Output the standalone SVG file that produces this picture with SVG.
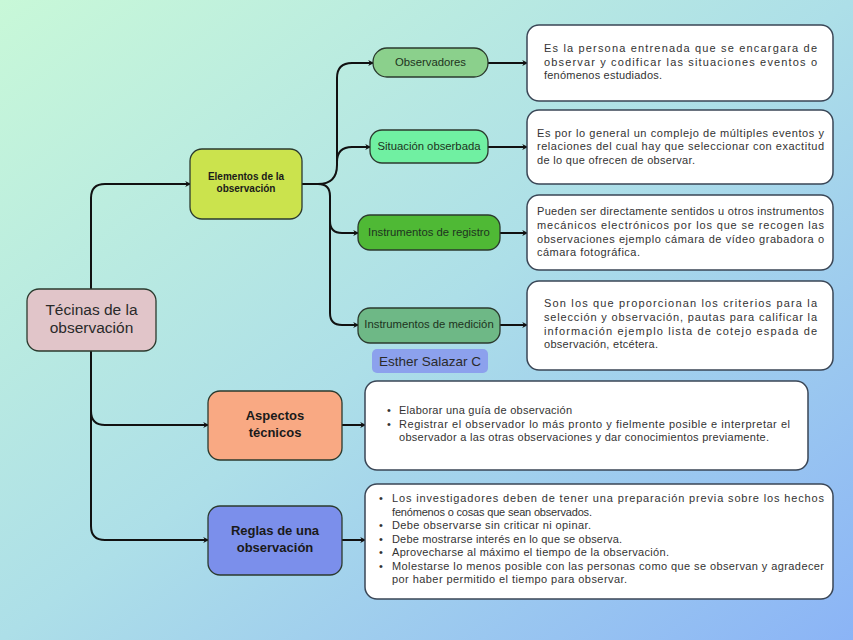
<svg xmlns="http://www.w3.org/2000/svg" width="853" height="640" viewBox="0 0 853 640">
<defs>
<linearGradient id="bg" x1="0" y1="0" x2="1" y2="1">
<stop offset="0" stop-color="#c8f8d8"/>
<stop offset="0.5" stop-color="#addfe8"/>
<stop offset="1" stop-color="#8bb4f6"/>
</linearGradient>
<marker id="ah" viewBox="0 0 10 10" refX="8" refY="5" markerWidth="6" markerHeight="6" orient="auto" markerUnits="userSpaceOnUse">
<path d="M0,0 L10,5 L0,10 L3,5 z" fill="#111"/>
</marker>
<style>
.conn{fill:none;stroke:#111;stroke-width:2;marker-end:url(#ah)}
.node{stroke:#2b3a2e;stroke-width:1.3}
.box{fill:#fff;stroke:#3a4656;stroke-width:1.5}
.t{font-family:"Liberation Sans","DejaVu Sans",sans-serif;fill:#2a2a2a}
.body{font-size:11px;fill:#333}
.lbl{font-size:11.3px;fill:#1d3320;text-anchor:middle}
.bold{font-weight:bold;fill:#1a1a1a;text-anchor:middle}
</style>
</defs>
<rect width="853" height="640" fill="url(#bg)"/>

<g id="connectors">
<path class="conn" d="M91,289 V198 Q91,184 105,184 H190"/>
<path class="conn" d="M91,351 V411 Q91,425 105,425 H208"/>
<path class="conn" d="M91,411 V526 Q91,540 105,540 H208"/>
<path class="conn" d="M302,184 H318 Q337,184 337,165 V78 Q337,63 352,63 H373"/>
<path class="conn" d="M337,162 Q337,147 352,147 H370"/>
<path class="conn" d="M318,184 Q330,184 330,196 V221 Q330,233 342,233 H358"/>
<path class="conn" d="M330,221 V313 Q330,325 342,325 H358"/>
<path class="conn" d="M488,63 H527"/>
<path class="conn" d="M488,147 H527"/>
<path class="conn" d="M500,233 H527"/>
<path class="conn" d="M500,325 H527"/>
<path class="conn" d="M342,425 H365"/>
<path class="conn" d="M342,540 H365"/>
</g>

<g id="main">
<rect class="node" x="27" y="289" width="129" height="62" rx="12" fill="#e1c5c9"/>
<text class="t" x="91.5" y="315" font-size="15.5" text-anchor="middle" fill="#333">Técinas de la</text>
<text class="t" x="91.5" y="333" font-size="15.5" text-anchor="middle" fill="#333">observación</text>
</g>

<g id="elementos">
<rect class="node" x="190" y="149" width="112" height="70" rx="12" fill="#cbe34d"/>
<text class="t bold" x="246" y="180" font-size="10">Elementos de la</text>
<text class="t bold" x="246" y="192" font-size="10">observación</text>
</g>

<g id="observadores">
<rect class="node" x="373" y="48" width="115" height="29" rx="14" fill="#8bd08c"/>
<text class="t lbl" x="430.5" y="66">Observadores</text>
</g>
<g id="situacion">
<rect class="node" x="370" y="130" width="118" height="33" rx="12" fill="#70f0a2"/>
<text class="t lbl" x="429" y="150">Situación obserbada</text>
</g>
<g id="registro">
<rect class="node" x="358" y="215" width="142" height="35" rx="12" fill="#4fb935"/>
<text class="t lbl" x="429" y="236">Instrumentos de registro</text>
</g>
<g id="medicion">
<rect class="node" x="358" y="308" width="142" height="35" rx="12" fill="#6eb886"/>
<text class="t lbl" x="429" y="328">Instrumentos de medición</text>
</g>

<g id="autor">
<rect x="372" y="349" width="116" height="24" rx="5" fill="#8ca1ed"/>
<text class="t" x="430" y="366" font-size="13.5" text-anchor="middle" fill="#1f2f5a">Esther Salazar C</text>
</g>

<g id="desc-observadores">
<rect class="box" x="527" y="25" width="306" height="76" rx="12"/>
<text class="t body" x="544" y="52" textLength="273" lengthAdjust="spacing">Es la persona entrenada que se encargara de</text>
<text class="t body" x="544" y="66" textLength="273" lengthAdjust="spacing">observar y codificar las situaciones eventos o</text>
<text class="t body" x="544" y="79" textLength="118" lengthAdjust="spacing">fenómenos estudiados.</text>
</g>

<g id="desc-situacion">
<rect class="box" x="527" y="110" width="306" height="74" rx="12"/>
<text class="t body" x="537" y="137" textLength="287" lengthAdjust="spacing">Es por lo general un complejo de múltiples eventos y</text>
<text class="t body" x="537" y="150" textLength="287" lengthAdjust="spacing">relaciones del cual hay que seleccionar con exactitud</text>
<text class="t body" x="537" y="164" textLength="158" lengthAdjust="spacing">de lo que ofrecen de observar.</text>
</g>

<g id="desc-registro">
<rect class="box" x="527" y="195" width="306" height="75" rx="12"/>
<text class="t body" x="537" y="215" textLength="287" lengthAdjust="spacing">Pueden ser directamente sentidos u otros instrumentos</text>
<text class="t body" x="537" y="229" textLength="287" lengthAdjust="spacing">mecánicos electrónicos por los que se recogen las</text>
<text class="t body" x="537" y="243" textLength="287" lengthAdjust="spacing">observaciones ejemplo cámara de vídeo grabadora o</text>
<text class="t body" x="537" y="256" textLength="103" lengthAdjust="spacing">cámara fotográfica.</text>
</g>

<g id="desc-medicion">
<rect class="box" x="527" y="281" width="306" height="89" rx="12"/>
<text class="t body" x="544" y="307" textLength="273" lengthAdjust="spacing">Son los que proporcionan los criterios para la</text>
<text class="t body" x="544" y="321" textLength="273" lengthAdjust="spacing">selección y observación, pautas para calificar la</text>
<text class="t body" x="544" y="335" textLength="273" lengthAdjust="spacing">información ejemplo lista de cotejo espada de</text>
<text class="t body" x="544" y="348" textLength="114" lengthAdjust="spacing">observación, etcétera.</text>
</g>

<g id="aspectos">
<rect class="node" x="208" y="391" width="134" height="69" rx="12" fill="#f9a983"/>
<text class="t bold" x="275" y="420" font-size="13">Aspectos</text>
<text class="t bold" x="275" y="437" font-size="13">técnicos</text>
</g>

<g id="desc-aspectos">
<rect class="box" x="365" y="381" width="443" height="89" rx="12"/>
<text class="t body" x="387" y="414">•</text>
<text class="t body" x="399" y="414" textLength="173" lengthAdjust="spacing">Elaborar una guía de observación</text>
<text class="t body" x="387" y="428">•</text>
<text class="t body" x="399" y="428" textLength="391" lengthAdjust="spacing">Registrar el observador lo más pronto y fielmente posible e interpretar el</text>
<text class="t body" x="399" y="441" textLength="370" lengthAdjust="spacing">observador a las otras observaciones y dar conocimientos previamente.</text>
</g>

<g id="reglas">
<rect class="node" x="208" y="506" width="134" height="69" rx="12" fill="#7b8feb"/>
<text class="t bold" x="275" y="535" font-size="13">Reglas de una</text>
<text class="t bold" x="275" y="552" font-size="13">observación</text>
</g>

<g id="desc-reglas">
<rect class="box" x="365" y="484" width="468" height="115" rx="12"/>
<text class="t body" x="379" y="502">•</text>
<text class="t body" x="392" y="502" textLength="432" lengthAdjust="spacing">Los investigadores deben de tener una preparación previa sobre los hechos</text>
<text class="t body" x="392" y="516" textLength="200" lengthAdjust="spacing">fenómenos o cosas que sean observados.</text>
<text class="t body" x="379" y="529">•</text>
<text class="t body" x="392" y="529" textLength="199" lengthAdjust="spacing">Debe observarse sin criticar ni opinar.</text>
<text class="t body" x="379" y="543">•</text>
<text class="t body" x="392" y="543" textLength="230" lengthAdjust="spacing">Debe mostrarse interés en lo que se observa.</text>
<text class="t body" x="379" y="556">•</text>
<text class="t body" x="392" y="556" textLength="277" lengthAdjust="spacing">Aprovecharse al máximo el tiempo de la observación.</text>
<text class="t body" x="379" y="570">•</text>
<text class="t body" x="392" y="570" textLength="432" lengthAdjust="spacing">Molestarse lo menos posible con las personas como que se observan y agradecer</text>
<text class="t body" x="392" y="583" textLength="235" lengthAdjust="spacing">por haber permitido el tiempo para observar.</text>
</g>
</svg>
